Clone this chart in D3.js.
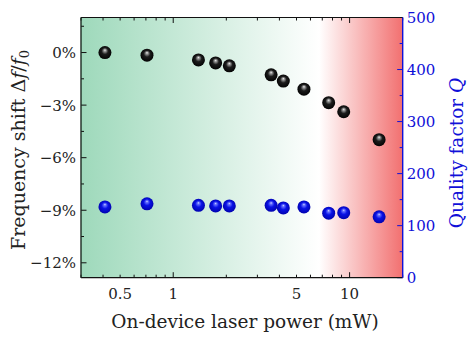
<!DOCTYPE html>
<html><head><meta charset="utf-8">
<script src="https://cdn.jsdelivr.net/npm/d3@7"></script>
<style>
body{margin:0;background:#fff}
text{font-family:"DejaVu Serif",serif}
</style>
</head><body>
<svg id="chart" width="474" height="337"></svg>
<script>
// Measured resonance vs. on-device laser power
const power     = [0.41, 0.71, 1.39, 1.74, 2.08, 3.59, 4.21, 5.51, 7.61, 9.26, 14.7];   // mW
const freqShift = [0, -0.15, -0.42, -0.59, -0.76, -1.27, -1.63, -2.09, -2.86, -3.38, -4.97]; // %
const qFactor   = [136, 142, 139, 138, 138, 139, 134, 136, 124, 125, 117];
const xTickLabels = [0.5, 1, 5, 10];
const shiftTicks  = [0, -3, -6, -9, -12];
const qTicks      = [0, 100, 200, 300, 400, 500];

const W = 474, H = 337;
const m = {left: 81, right: W - 402.7, top: 17.5, bottom: H - 277.7};
const iw = W - m.left - m.right, ih = H - m.top - m.bottom;

const svg = d3.select("#chart");
const defs = svg.append("defs");

// background wash: green on the low-power side, red on the high-power side
const bg = defs.append("linearGradient").attr("id", "bgGrad")
  .attr("x1", "0%").attr("x2", "100%").attr("y1", "0%").attr("y2", "0%");
[[0, "#9ed9bb"], [0.74, "#ffffff"], [1, "#f27070"]].forEach(([o, c]) =>
  bg.append("stop").attr("offset", o).attr("stop-color", c));

function sphere(id, stops) {
  const g = defs.append("radialGradient").attr("id", id)
    .attr("cx", "50%").attr("cy", "50%").attr("r", "55%")
    .attr("fx", "50%").attr("fy", "30%");
  stops.forEach(([o, c]) => g.append("stop").attr("offset", o).attr("stop-color", c));
}
sphere("ballBlack", [[0, "#f2f2f2"], [0.14, "#a0a0a0"], [0.45, "#1c1c1c"], [1, "#000"]]);
sphere("ballBlue",  [[0, "#d8dcff"], [0.14, "#6a74ff"], [0.45, "#0a12e6"], [1, "#0000a8"]]);

const x = d3.scaleLog().domain([0.3, 20]).range([0, iw]);
const yL = d3.scaleLinear().domain([-12.85, 2]).range([ih, 0]);
const yR = d3.scaleLinear().domain([0, 500]).range([ih, 0]);

const g = svg.append("g").attr("transform", `translate(${m.left},${m.top})`);
g.append("rect").attr("width", iw).attr("height", ih).attr("fill", "url(#bgGrad)");

const fmtPct = d => (d < 0 ? "\u2212" + Math.abs(d) : d) + "%";

// inward ticks on all sides
const xMinor = d3.range(3, 10).map(d => d / 10).concat(d3.range(2, 10), [20]);
const xMajor = [1, 10];
function xTicks(yPos, dir) {
  const t = g.append("g");
  xMinor.forEach(v => t.append("line").attr("x1", x(v)).attr("x2", x(v))
    .attr("y1", yPos).attr("y2", yPos + dir * 3).attr("stroke", "#111").attr("stroke-width", 1));
  xMajor.forEach(v => t.append("line").attr("x1", x(v)).attr("x2", x(v))
    .attr("y1", yPos).attr("y2", yPos + dir * 5.5).attr("stroke", "#111").attr("stroke-width", 1));
}
xTicks(ih, -1);
xTicks(0, 1);

const leftMinor = [1.5, -1.5, -4.5, -7.5, -10.5];
shiftTicks.forEach(v => g.append("line").attr("x1", 0).attr("x2", 5.5)
  .attr("y1", yL(v)).attr("y2", yL(v)).attr("stroke", "#111"));
leftMinor.forEach(v => g.append("line").attr("x1", 0).attr("x2", 3)
  .attr("y1", yL(v)).attr("y2", yL(v)).attr("stroke", "#111"));

const blue = "#1010d8";
qTicks.forEach(v => g.append("line").attr("x1", iw).attr("x2", iw - 5.5)
  .attr("y1", yR(v)).attr("y2", yR(v)).attr("stroke", blue));
d3.range(50, 500, 100).forEach(v => g.append("line").attr("x1", iw).attr("x2", iw - 3)
  .attr("y1", yR(v)).attr("y2", yR(v)).attr("stroke", blue));

// frame
g.append("line").attr("x1", 0).attr("x2", iw).attr("y1", 0).attr("y2", 0).attr("stroke", "#111").attr("stroke-width", 1.2);
g.append("line").attr("x1", 0).attr("x2", iw).attr("y1", ih).attr("y2", ih).attr("stroke", "#111").attr("stroke-width", 1.2);
g.append("line").attr("x1", 0).attr("x2", 0).attr("y1", 0).attr("y2", ih).attr("stroke", "#1a2a22").attr("stroke-width", 1.4);
g.append("line").attr("x1", iw).attr("x2", iw).attr("y1", 0).attr("y2", ih).attr("stroke", blue).attr("stroke-width", 1.4);

// tick labels
g.selectAll(".xl").data(xTickLabels).join("text")
  .attr("x", d => x(d)).attr("y", ih + 21).attr("text-anchor", "middle")
  .attr("font-size", 15).attr("fill", "#222").text(d => d);
g.selectAll(".yl").data(shiftTicks).join("text")
  .attr("x", -5).attr("y", d => yL(d)).attr("dy", "0.36em").attr("text-anchor", "end")
  .attr("font-size", 15).attr("fill", "#222").text(fmtPct);
g.selectAll(".yr").data(qTicks).join("text")
  .attr("x", iw + 4).attr("y", d => yR(d)).attr("dy", "0.36em").attr("text-anchor", "start")
  .attr("font-size", 15).attr("fill", blue).text(d => d);

// markers
const pts = power.map((p, i) => ({p, s: freqShift[i], q: qFactor[i]}));
g.selectAll(".q").data(pts).join("circle")
  .attr("cx", d => x(d.p)).attr("cy", d => yR(d.q)).attr("r", 6.5).attr("fill", "url(#ballBlue)");
g.selectAll(".s").data(pts).join("circle")
  .attr("cx", d => x(d.p)).attr("cy", d => yL(d.s)).attr("r", 6.5).attr("fill", "url(#ballBlack)");

// axis titles
svg.append("text").attr("x", 245).attr("y", 328).attr("text-anchor", "middle")
  .attr("font-size", 18.5).attr("fill", "#222").text("On-device laser power (mW)");

const lt = svg.append("text").attr("transform", `translate(25,${150}) rotate(-90)`)
  .attr("text-anchor", "middle").attr("font-size", 19).attr("fill", "#222");
lt.append("tspan").text("Frequency shift \u0394");
lt.append("tspan").attr("font-style", "italic").text("f");
lt.append("tspan").text("/");
lt.append("tspan").attr("font-style", "italic").text("f");
lt.append("tspan").attr("font-size", 13).attr("dy", 4).text("0");

const rt = svg.append("text").attr("transform", `translate(463,${153}) rotate(-90)`)
  .attr("text-anchor", "middle").attr("font-size", 18.5).attr("fill", blue);
rt.append("tspan").text("Quality factor ");
rt.append("tspan").attr("font-style", "italic").text("Q");
</script>
</body></html>
